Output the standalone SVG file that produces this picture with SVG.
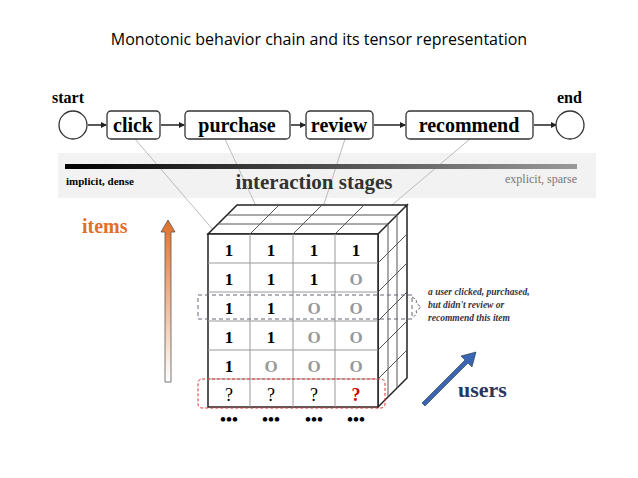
<svg xmlns="http://www.w3.org/2000/svg" width="638" height="478" viewBox="0 0 638 478">
<style>
.s{font-family:"Liberation Serif",serif;font-weight:bold}
.b{fill:#fff;stroke:#333;stroke-width:1.3}
.g{stroke:#bbb;stroke-width:1;fill:none}
.c{stroke:#555;stroke-width:1;fill:none}
.ar{stroke:#222;stroke-width:1.5;marker-end:url(#a)}
.one{font-family:"Liberation Serif",serif;font-weight:bold;font-size:17px;text-anchor:middle}
.z{font-family:"Liberation Serif",serif;font-weight:bold;font-size:17px;text-anchor:middle;fill:#999}
.q{font-family:"Liberation Serif",serif;font-size:18px;text-anchor:middle}
</style>
<defs>
<marker id="a" markerWidth="6" markerHeight="6" refX="5" refY="3" orient="auto" markerUnits="userSpaceOnUse"><path d="M0,0L6,3L0,6z" fill="#222"/></marker>
<linearGradient id="bar"><stop offset="0" stop-color="#000"/><stop offset="1" stop-color="#999"/></linearGradient>
<linearGradient id="or" x1="0" y1="1" x2="0" y2="0"><stop offset="0" stop-color="#fff"/><stop offset="1" stop-color="#e0702a"/></linearGradient>
</defs>
<rect width="638" height="478" fill="#fff"/>
<text x="319" y="45" font-family="Open Sans,sans-serif" font-size="16" text-anchor="middle">Monotonic behavior chain and its tensor representation</text>
<rect x="58" y="153" width="538" height="45" fill="#f2f2f2"/>
<g id="connectors">
<path class="g" d="M135,139L215,232M225,139L268,232M345,139L315,232M470,139L360,232"/>
<line class="ar" x1="88" y1="125" x2="106" y2="125"/>
<line class="ar" x1="161" y1="125" x2="184" y2="125"/>
<line class="ar" x1="291" y1="125" x2="305" y2="125"/>
<line class="ar" x1="374" y1="125" x2="405" y2="125"/>
<line class="ar" x1="534" y1="125" x2="556" y2="125"/>
</g>
<g id="start"><text x="52" y="103" class="s" font-size="16">start</text><circle cx="73" cy="125" r="14" class="b"/></g>
<g id="click"><rect x="107" y="111" width="53" height="28" rx="4" class="b"/><text x="133" y="132" class="s" font-size="20" text-anchor="middle">click</text></g>
<g id="purchase"><rect x="185" y="111" width="105" height="28" rx="4" class="b"/><text x="237" y="132" class="s" font-size="20" text-anchor="middle">purchase</text></g>
<g id="review"><rect x="306" y="111" width="67" height="28" rx="4" class="b"/><text x="339" y="132" class="s" font-size="20" text-anchor="middle">review</text></g>
<g id="recommend"><rect x="406" y="111" width="127" height="28" rx="4" class="b"/><text x="469" y="132" class="s" font-size="20" text-anchor="middle">recommend</text></g>
<g id="end"><text x="557" y="103" class="s" font-size="16">end</text><circle cx="570" cy="125" r="14" class="b"/></g>
<g id="stages">
<rect x="65" y="164" width="512" height="5" fill="url(#bar)"/>
<text x="66" y="185" class="s" font-size="11">implicit, dense</text>
<text x="577" y="183" font-family="Liberation Serif,serif" font-size="12" fill="#777" text-anchor="end">explicit, sparse</text>
<text x="314" y="189" class="s" font-size="21" fill="#333" text-anchor="middle">interaction stages</text>
</g>
<g id="items"><text x="82" y="233" class="s" font-size="20" fill="#e0702a">items</text>
<path d="M165,382V232H161L168,220L175,232H171V382z" fill="url(#or)" stroke="#555" stroke-width="0.8"/></g>
<g id="tensor">
<path d="M208,234L237,205H407L378,234zM378,234L407,205V378L378,407z" fill="#fff" stroke="#222" stroke-width="1.5"/>
<path class="c" d="M250,234L279,205M293,234L322,205M335,234L364,205M218,224H388M227,215H397M388,224V397M397,215V388"/>
<path class="c" d="M378,263L407,234M378,292L407,263M378,321L407,292M378,350L407,321M378,379L407,350"/>
<rect x="208" y="234" width="170" height="173" fill="#fff" stroke="#222" stroke-width="1.5"/>
<path d="M250,234V407M293,234V407M335,234V407M208,263H378M208,292H378M208,321H378M208,350H378M208,379H378" stroke="#999" stroke-width="1"/>
<text class="one" y="256"><tspan x="229">1</tspan><tspan x="271">1</tspan><tspan x="314">1</tspan><tspan x="356">1</tspan></text>
<text class="one" y="285"><tspan x="229">1</tspan><tspan x="271">1</tspan><tspan x="314">1</tspan></text><text class="z" x="356" y="285">O</text>
<text class="one" y="314"><tspan x="229">1</tspan><tspan x="271">1</tspan></text><text class="z" y="314"><tspan x="314">O</tspan><tspan x="356">O</tspan></text>
<text class="one" y="343"><tspan x="229">1</tspan><tspan x="271">1</tspan></text><text class="z" y="343"><tspan x="314">O</tspan><tspan x="356">O</tspan></text>
<text class="one" y="372" x="229">1</text><text class="z" y="372"><tspan x="271">O</tspan><tspan x="314">O</tspan><tspan x="356">O</tspan></text>
<text class="q" y="401"><tspan x="229">?</tspan><tspan x="271">?</tspan><tspan x="314">?</tspan></text><text class="q" x="356" y="401" fill="#c00" font-weight="bold">?</text>
<text class="one" y="425"><tspan x="229">•••</tspan><tspan x="271">•••</tspan><tspan x="314">•••</tspan><tspan x="356">•••</tspan></text>
<rect x="198" y="379" width="187" height="29" rx="4" fill="none" stroke="#d33" stroke-dasharray="3,2"/>
</g>
<g id="note">
<rect x="198" y="295" width="214" height="24" fill="none" stroke="#667" stroke-dasharray="4,3"/>
<path d="M412,297Q418,300 416,303L421,307L416,311Q418,314 412,318" fill="none" stroke="#667" stroke-dasharray="3,2"/>
<text font-family="Liberation Serif,serif" font-style="italic" font-weight="bold" font-size="9.5" fill="#334"><tspan x="428" y="295">a user clicked, purchased,</tspan><tspan x="428" y="308">but didn't review or</tspan><tspan x="428" y="321">recommend this item</tspan></text>
</g>
<g id="users">
<path d="M422,403L465,360L461,356L476,352L472,367L468,363L425,406z" fill="#3a65b0" stroke="#234" stroke-width="0.6"/>
<text x="458" y="397" class="s" font-size="22" fill="#2a3560">users</text>
</g>
</svg>
